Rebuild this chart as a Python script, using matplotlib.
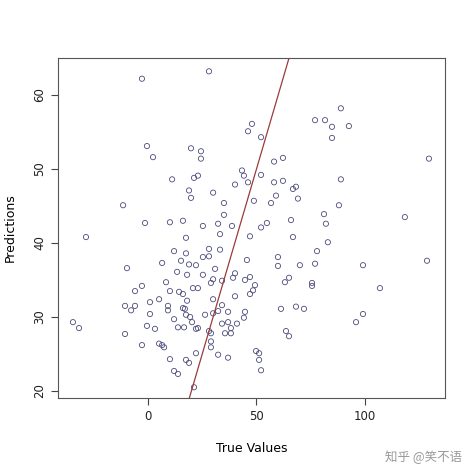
import matplotlib
matplotlib.use("Agg")
import matplotlib.pyplot as plt

# scatter values
true_vals = [-2.8, 28.1, 47.9, 46.1, -0.5, 2.3, 19.8, 24.4, 24.4, 11.1, 21.2, 23.0, 43.3, 44.2, 46.1,
             40.1, 18.9, 19.8, 30.0, 48.8, 35.0, 35.0, -11.5, -1.4, 10.1, 16.1, 25.3, 32.3, 38.7,
             -28.6, 17.5, 33.2, 47.0, 12.0, 17.5, 28.1, 33.2, 25.3, 28.1, 15.2, 18.9, 22.1, 6.5, -9.7,
             45.6, 13.4, 18.0, 30.9, 25.3, 40.1, 39.2, 44.7, 47.0, 30.0, 29.0, 34.1, 8.3, -2.8, 20.7,
             23.0, 49.3, 48.4, -6.0, 10.1, 14.3, 16.1, 47.0, 40.1, 0.9, 5.1, 18.0, 30.0, -10.6, -6.0,
             -7.8, 9.2, 9.2, 16.1, 17.0, 34.1, 32.3, 36.9, 44.7, 30.0, 26.3, 0.9, 17.5, 19.4, 12.0,
             -34.6, -31.8, 20.3, 44.2, 34.1, 36.9, 41.0, -0.5, 3.2, 13.8, 16.6, 22.1, 23.0, 38.2,
             35.5, 38.2, 28.1, 29.0, -10.6, 29.0, -2.8, 5.1, 6.5, 7.4, 29.0, 22.1, 10.1, 17.5, 18.9,
             32.3, 36.9, 12.0, 13.8, 21.2, 49.8,
             88.9, 77.0, 81.6, 84.8, 84.8, 92.6, 52.1, 129.5, 58.1, 62.2, 52.1, 58.1, 62.2, 66.8,
             68.2, 88.9, 56.7, 59.0, 69.1, 88.0, 81.1, 118.4, 65.9, 82.0, 52.1, 54.8, 66.8, 82.9,
             77.9, 59.9, 59.9, 70.0, 77.0, 99.1, 128.6, 63.1, 65.0, 75.6, 75.6, 106.9, 61.3, 68.2,
             71.9, 99.1, 95.9, 63.6, 65.0, 51.2, 51.2, 52.1]
predictions = [62.2, 63.2, 56.1, 55.1, 53.1, 51.6, 52.8, 52.4, 51.4, 48.6, 48.8, 49.1, 49.8, 49.1, 48.2,
               47.9, 47.1, 46.1, 46.8, 45.7, 45.4, 43.8, 45.1, 42.7, 42.8, 43.0, 42.3, 42.6, 42.3,
               40.8, 40.7, 41.2, 40.9, 38.9, 38.6, 39.2, 39.1, 38.1, 38.2, 37.6, 37.1, 37.0, 37.3, 36.6,
               37.7, 36.1, 35.7, 36.5, 35.7, 35.9, 35.3, 35.0, 35.4, 35.1, 34.6, 34.9, 34.7, 34.2, 33.9,
               33.9, 34.3, 33.6, 33.5, 33.5, 33.4, 33.1, 33.1, 32.8, 32.0, 32.4, 32.2, 32.4, 31.5, 31.5,
               30.9, 31.5, 30.9, 31.2, 31.1, 31.6, 30.8, 30.7, 30.7, 30.5, 30.3, 30.4, 30.3, 30.0, 29.7,
               29.3, 28.5, 29.3, 29.9, 29.1, 29.3, 29.1, 28.8, 28.4, 28.6, 28.6, 28.4, 28.5, 28.5,
               27.8, 27.8, 28.1, 27.8, 27.7, 26.7, 26.2, 26.4, 26.2, 25.9, 25.9, 25.1, 24.3, 24.2, 23.8,
               24.9, 24.5, 22.7, 22.3, 20.5, 25.4,
               58.2, 56.6, 56.6, 55.7, 54.2, 55.8, 54.3, 51.4, 51.0, 51.5, 49.2, 48.2, 48.4, 47.3,
               47.6, 48.6, 45.4, 46.4, 46.0, 45.1, 43.9, 43.5, 43.1, 42.6, 42.1, 42.7, 40.8, 40.1,
               38.9, 38.1, 36.9, 37.0, 37.2, 37.0, 37.6, 34.7, 35.3, 34.6, 34.2, 33.9, 31.1, 31.4,
               31.1, 30.4, 29.3, 28.1, 27.4, 25.1, 24.2, 22.8]
x_ticks = [0, 50, 100]
y_ticks = [20, 30, 40, 50, 60]

fig = plt.figure(figsize=(4.74, 4.73), dpi=100)
ax = fig.add_axes([58 / 474, 75 / 473, 387 / 474, 340 / 473])

ax.scatter(true_vals, predictions, s=14, facecolors="none", edgecolors="#4a4a7a", linewidths=0.6)
ax.axline((0, 0), slope=1, color="#9b3a3a", linewidth=0.9)

ax.set_xlim(-41.5, 136.9)
ax.set_ylim(19.05, 65)
ax.set_xticks(x_ticks)
ax.set_yticks(y_ticks)
ax.set_yticklabels([str(v) for v in y_ticks], rotation=90, va="center")
ax.tick_params(labelsize=8.5, length=5, color="#444444", labelcolor="#222222")
for s in ax.spines.values():
    s.set_color("#555555")
ax.set_xlabel("True Values", fontsize=9, labelpad=14)
ax.set_ylabel("Predictions", fontsize=9, labelpad=12)

fig.text(0.975, 0.02, "知乎 @笑不语", ha="right", va="bottom", fontsize=9, color="#999999",
         family=["Noto Sans CJK SC", "DejaVu Sans"])

fig.savefig("out.png", dpi=100)
